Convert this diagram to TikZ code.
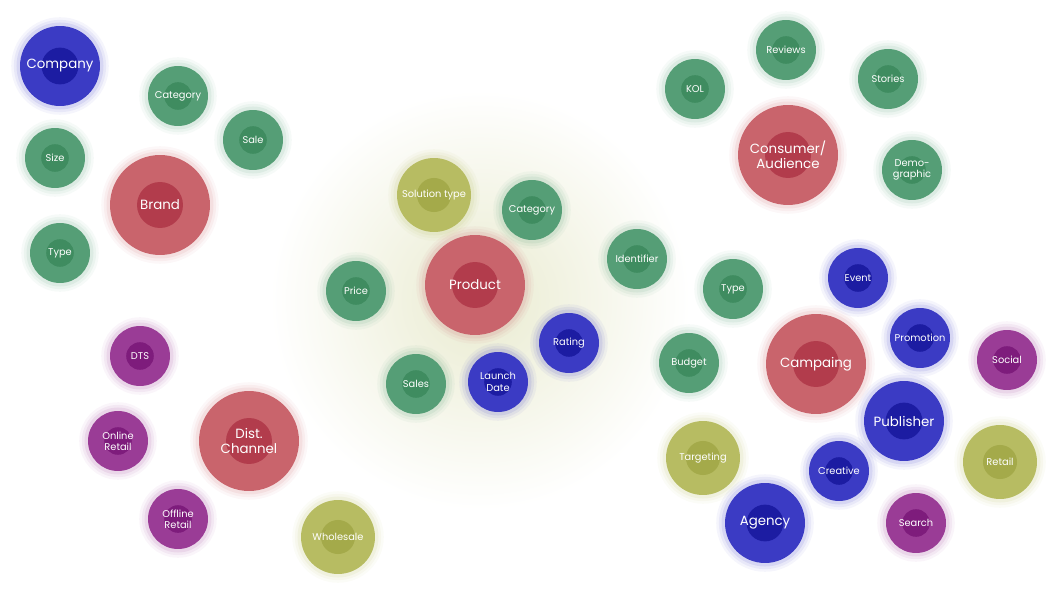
\documentclass[tikz,border=0pt]{standalone}
\usepackage{fontspec}
\setmainfont{Poppins}
\definecolor{gO}{HTML}{559E76}
\definecolor{gI}{HTML}{3F8C60}
\definecolor{bO}{HTML}{3B3BC4}
\definecolor{bI}{HTML}{1C1CA2}
\definecolor{rO}{HTML}{C9646C}
\definecolor{rI}{HTML}{B23C4C}
\definecolor{pO}{HTML}{9A3C96}
\definecolor{pI}{HTML}{7E1C7C}
\definecolor{oO}{HTML}{B7BC62}
\definecolor{oI}{HTML}{A4AA4A}
\begin{document}
\begin{tikzpicture}[
            x = 0.02cm, y = -0.02cm, % pixel grid
            bub/.style n args={3}{
                circle, fill=#1, text=white, minimum size=#3,
                inner sep=0pt, align=center,
                preaction={draw=#1, draw opacity=.05, line width=10pt},
                preaction={draw=#1, draw opacity=.07, line width=7pt},
                preaction={draw=#1, draw opacity=.10, line width=4pt},
                path picture={\fill[#2] (path picture bounding box.center) circle (0.23*#3);}
            },
            small/.style={font=\fontsize{5.6}{6.4}\selectfont},
            big/.style={font=\fontsize{7.6}{8.8}\selectfont},
            green/.style={bub={gO}{gI}{1.2cm}, small},
            blue/.style={bub={bO}{bI}{1.2cm}, small},
            purple/.style={bub={pO}{pI}{1.2cm}, small},
            olive/.style={bub={oO}{oI}{1.48cm}, small},
            bigred/.style={bub={rO}{rI}{2cm}, big},
            bigblue/.style={bub={bO}{bI}{1.6cm}, big}
        ]
        \useasboundingbox (0,0) rectangle (1057,594);
        % background glow
        \shade[inner color=oO!30, outer color=white] (480,300) circle (210);

        % brand cluster
        \node[bigblue] (company) [at={(60,66)}] {Company};
        \node[green] (bcat) [at={(178,96)}] {Category};
        \node[green] (sale) [at={(253,140)}] {Sale};
        \node[green] (size) [at={(55,158)}] {Size};
        \node[bigred] (brand) [at={(160,205)}] {Brand};
        \node[green] (btype) [at={(60,253)}] {Type};

        % channel cluster
        \node[purple] (dts) [at={(140,356)}] {DTS};
        \node[purple] (online) [at={(118,441)}] {Online\\Retail};
        \node[bigred] (dist) [at={(249,441)}] {Dist.\\Channel};
        \node[purple] (offline) [at={(178,519)}] {Offline\\Retail};
        \node[olive] (wholesale) [at={(338,537)}] {Wholesale};

        % product cluster
        \node[olive] (solution) [at={(434,195)}] {Solution type};
        \node[green] (pcat) [at={(532,210)}] {Category};
        \node[bigred] (product) [at={(475,285)}] {Product};
        \node[green] (price) [at={(356,291)}] {Price};
        \node[green] (ident) [at={(637,259)}] {Identifier};
        \node[green] (sales) [at={(416,384)}] {Sales};
        \node[blue] (launch) [at={(498,382)}] {Launch\\Date};
        \node[blue] (rating) [at={(569,343)}] {Rating};

        % consumer cluster
        \node[green] (kol) [at={(695,89)}] {KOL};
        \node[green] (reviews) [at={(786,50)}] {Reviews};
        \node[green] (stories) [at={(888,79)}] {Stories};
        \node[bigred] (consumer) [at={(788,155)}] {Consumer/\\Audience};
        \node[green] (demo) [at={(912,170)}] {Demo-\\graphic};

        % campaign cluster
        \node[green] (ctype) [at={(733,289)}] {Type};
        \node[blue] (event) [at={(858,278)}] {Event};
        \node[green] (budget) [at={(689,363)}] {Budget};
        \node[bigred] (campaing) [at={(816,364)}] {Campaing};
        \node[blue] (promo) [at={(920,338)}] {Promotion};
        \node[purple] (social) [at={(1007,360)}] {Social};
        \node[bigblue] (publisher) [at={(904,421)}] {Publisher};
        \node[olive] (targeting) [at={(703,458)}] {Targeting};
        \node[blue] (creative) [at={(839,471)}] {Creative};
        \node[olive] (retail) [at={(1000,462)}] {Retail};
        \node[bigblue] (agency) [at={(765,523)}] {Agency};
        \node[purple] (search) [at={(916,523)}] {Search};
\end{tikzpicture}
\end{document}
